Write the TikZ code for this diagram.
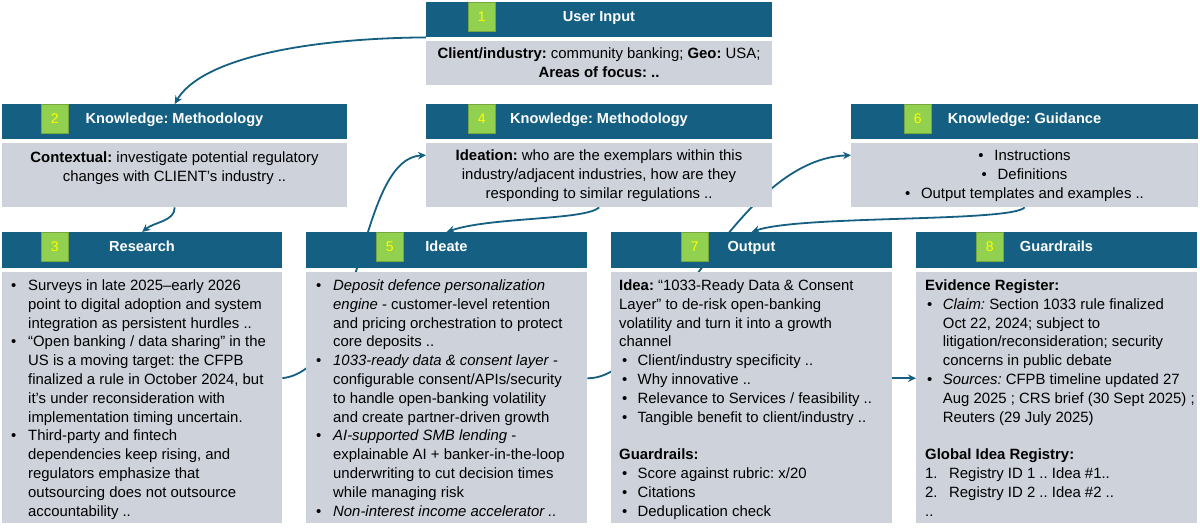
\documentclass[tikz,border=0pt]{standalone}
\usepackage{fontspec}
\setmainfont{Liberation Sans}
\usetikzlibrary{arrows.meta,backgrounds}
\definecolor{hdrblue}{RGB}{21,96,130}
\definecolor{bodygray}{RGB}{206,210,218}
\definecolor{numgreen}{RGB}{146,208,80}
\definecolor{numyellow}{RGB}{255,255,0}
\frenchspacing
\newcommand\bodyfont{\fontsize{14.9}{18.8}\selectfont\frenchspacing}
\newcommand\titlefont{\fontsize{14.6}{17}\selectfont\bfseries\frenchspacing}
\newcommand\numfont{\fontsize{14}{16}\selectfont}
\newcommand\bl{\makebox[17pt][l]{\textbullet}}
\newcommand\ind{\hspace*{17pt}}
\newcommand\obl{\hspace*{3pt}\makebox[15.5pt][l]{\textbullet}}
\newcommand\gbl{\hspace*{2pt}\makebox[15.7pt][l]{\textbullet}}
\newcommand\gind{\hspace*{17.7pt}}
\begin{document}
\begin{tikzpicture}[x=1pt,y=-1pt,
  hdr/.style={fill=hdrblue, draw=none, anchor=north west, inner sep=0pt},
  bodybox/.style={fill=bodygray, draw=none, anchor=north west, inner sep=0pt},
  numbox/.style={fill=numgreen, draw=numgreen!80!black, line width=0.6pt, anchor=north west, inner sep=0pt, minimum width=27pt, minimum height=29pt, text=numyellow, font=\numfont},
  ttl/.style={anchor=base, text=white, font=\titlefont, inner sep=0pt},
  txt/.style={anchor=north west, align=left, font=\bodyfont, inner sep=0pt, text=black},
  ctxt/.style={anchor=north, align=center, font=\bodyfont, inner sep=0pt, text=black},
  conn/.style={draw=hdrblue, line width=1.8pt, -{Stealth[length=8pt,width=7.5pt]}}]
\useasboundingbox (0,0) rectangle (1200,529);

% Box 1
\node[hdr, minimum width=346pt, minimum height=35pt] (h1) at (426,2) {};
\node[bodybox, minimum width=346pt, minimum height=44pt] (b1) at (426,41) {};
\node[numbox] (n1) at (468,2) {1};
\node[ttl] (ttl1) at (599,22) {User Input};
\node[ctxt] (t1) at (599,45.2) {\strut\textbf{Client/industry:} community banking; \textbf{Geo:} USA;\\ \textbf{Areas of focus: ..}};

% Box 2
\node[hdr, minimum width=345pt, minimum height=35pt] (h2) at (2,104) {};
\node[bodybox, minimum width=345pt, minimum height=64pt] (b2) at (2,143) {};
\node[numbox] (n2) at (41,104) {2};
\node[ttl] (ttl2) at (174.5,124) {Knowledge: Methodology};
\node[ctxt] (t2) at (174.5,149.2) {\strut\textbf{Contextual:} investigate potential regulatory\\ changes with CLIENT’s industry ..};

% Box 4
\node[hdr, minimum width=346pt, minimum height=35pt] (h4) at (426,104) {};
\node[bodybox, minimum width=346pt, minimum height=64pt] (b4) at (426,143) {};
\node[numbox] (n4) at (468,104) {4};
\node[ttl] (ttl4) at (599,124) {Knowledge: Methodology};
\node[ctxt] (t4) at (599,147.2) {\strut\textbf{Ideation:} who are the exemplars within this\\ industry/adjacent industries, how are they\\ responding to similar regulations ..};

% Box 6
\node[hdr, minimum width=347pt, minimum height=35pt] (h6) at (851,104) {};
\node[bodybox, minimum width=347pt, minimum height=64pt] (b6) at (851,143) {};
\node[numbox] (n6) at (904,104) {6};
\node[ttl] (ttl6) at (1024.5,124) {Knowledge: Guidance};
\node[ctxt] (t6) at (1024.5,147.2) {\strut\makebox[16pt][l]{\textbullet}Instructions\\ \makebox[16pt][l]{\textbullet}Definitions\\ \makebox[16pt][l]{\textbullet}Output templates and examples ..};

% Box 3
\node[hdr, minimum width=280pt, minimum height=36pt] (h3) at (2,232) {};
\node[bodybox, minimum width=280pt, minimum height=251pt] (b3) at (2,272) {};
\node[numbox] (n3) at (41,232) {3};
\node[ttl] (ttl3) at (142,252) {Research};
\node[txt] (t3) at (11,277.2) {\strut\bl Surveys in late 2025–early 2026\\
\ind point to digital adoption and system\\
\ind integration as persistent hurdles ..\\
\bl “Open banking / data sharing” in the\\
\ind US is a moving target: the CFPB\\
\ind finalized a rule in October 2024, but\\
\ind it’s under reconsideration with\\
\ind implementation timing uncertain.\\
\bl Third-party and fintech\\
\ind dependencies keep rising, and\\
\ind regulators emphasize that\\
\ind outsourcing does not outsource\\
\ind accountability ..};

% Box 5
\node[hdr, minimum width=281pt, minimum height=36pt] (h5) at (306,232) {};
\node[bodybox, minimum width=281pt, minimum height=251pt] (b5) at (306,272) {};
\node[numbox] (n5) at (376,232) {5};
\node[ttl] (ttl5) at (446.5,252) {Ideate};
\node[txt] (t5) at (316,277.2) {\strut\bl \textit{Deposit defence personalization}\\
\ind \textit{engine} - customer-level retention\\
\ind and pricing orchestration to protect\\
\ind core deposits ..\\
\bl \textit{1033-ready data \& consent layer} -\\
\ind configurable consent/APIs/security\\
\ind to handle open-banking volatility\\
\ind and create partner-driven growth\\
\bl \textit{AI-supported SMB lending} -\\
\ind explainable AI + banker-in-the-loop\\
\ind underwriting to cut decision times\\
\ind while managing risk\\
\bl \textit{Non-interest income accelerator ..}};

% Box 7
\node[hdr, minimum width=281pt, minimum height=36pt] (h7) at (611,232) {};
\node[bodybox, minimum width=281pt, minimum height=251pt] (b7) at (611,272) {};
\node[numbox] (n7) at (681,232) {7};
\node[ttl] (ttl7) at (751.5,252) {Output};
\node[txt] (t7) at (619,277.2) {\strut\textbf{Idea:} “1033-Ready Data \& Consent\\
Layer” to de-risk open-banking\\
volatility and turn it into a growth\\
channel\\
\obl Client/industry specificity ..\\
\obl Why innovative ..\\
\obl Relevance to Services / feasibility ..\\
\obl Tangible benefit to client/industry ..\\
\strut\\
\textbf{Guardrails:}\\
\obl Score against rubric: x/20\\
\obl Citations\\
\obl Deduplication check};

% Box 8
\node[hdr, minimum width=281pt, minimum height=36pt] (h8) at (916,232) {};
\node[bodybox, minimum width=281pt, minimum height=251pt] (b8) at (916,272) {};
\node[numbox] (n8) at (976,232) {8};
\node[ttl] (ttl8) at (1056.5,252) {Guardrails};
\node[txt] (t8) at (925,277.2) {\strut\textbf{Evidence Register:}\\
\gbl \textit{Claim:} Section 1033 rule finalized\\
\gind Oct 22, 2024; subject to\\
\gind litigation/reconsideration; security\\
\gind concerns in public debate\\
\gbl \textit{Sources:} CFPB timeline updated 27\\
\gind Aug 2025 ; CRS brief (30 Sept 2025) ;\\
\gind Reuters (29 July 2025)\\
\strut\\
\textbf{Global Idea Registry:}\\
\makebox[24pt][l]{1.}Registry ID 1 .. Idea \#1..\\
\makebox[24pt][l]{2.}Registry ID 2 .. Idea \#2 ..\\
..};

% Connectors (drawn behind the boxes)
\begin{pgfonlayer}{background}
\fill[white] (0,0) rectangle (1200,529);
\draw[conn] (h1.south west) .. controls +(-126,1) and +(25.5,-44) .. (h2.north);
\draw[conn] (b2.south) .. controls +(0,14) and +(12,-10) .. (h3.north);
\draw[conn] ([yshift=19.5pt]b3.east) .. controls +(82,-10) and +(-70,4) .. ([yshift=20pt]b4.west);
\draw[conn] (b4.south) .. controls +(-14,13) and +(43,-15) .. (h5.north);
\draw[conn] ([yshift=19.5pt]b5.east) .. controls +(73,2) and +(-121,5) .. ([yshift=20pt]b6.west);
\draw[conn] (b6.south) .. controls +(-14,15) and +(48,-17) .. (h7.north);
\draw[conn] ([yshift=19.5pt]b7.east) -- ([yshift=19.5pt]b8.west);
\end{pgfonlayer}
\end{tikzpicture}
\end{document}
